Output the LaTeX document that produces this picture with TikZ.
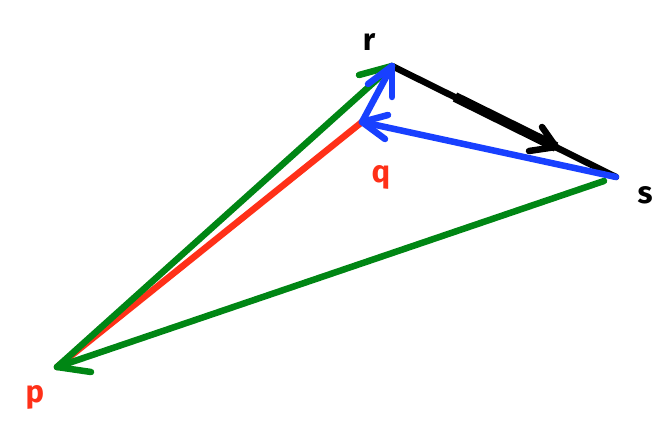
\documentclass[tikz,border=0pt]{standalone}
\usepackage{fontspec}
\setmainfont{Fira Sans}
\usepackage{xcolor}
\usetikzlibrary{arrows, arrows.meta}

\definecolor{vgreen}{RGB}{0,134,20}
\definecolor{vred}{RGB}{255,48,24}
\definecolor{vblue}{RGB}{24,64,255}

\tikzset{
  vec/.style={line width=6.5pt, line cap=round},
  lbl/.style={font=\fontsize{31}{36}\selectfont\bfseries}
}

\begin{document}
\begin{tikzpicture}[x=1pt,y=-1pt]
\useasboundingbox (0,0) rectangle (668,422);

\coordinate (p) at (57,367);
\coordinate (q) at (362,122);
\coordinate (r) at (392,66);
\coordinate (s) at (616,177);

% r to s, arrow in the middle
\draw[vec,black] (r) -- (s);
\draw[black,line width=10pt] (455,97) coordinate (m0) -- (556,147) coordinate (m1);
\draw[vec,black] (m1) -- ++(-14,-20);
\draw[vec,black] (m1) -- ++(-27,4);

% p to q
\draw[vec,vred] (p) -- (q);

% green sides
\draw[vec,vgreen] (p) -- (r);
\draw[vec,vgreen] (r) -- ++(-33,9);
\draw[vec,vgreen] (s) ++(-12,4) -- (p);
\draw[vec,vgreen] (p) -- ++(34,5);

% blue vectors
\draw[vec,vblue] (s) -- (q);
\draw[vec,vblue] (q) -- ++(26,-7);
\draw[vec,vblue] (q) -- ++(23,17);
\draw[vec,vblue] (q) -- (r);
\draw[vec,vblue] (r) -- ++(0,31);
\draw[vec,vblue] (r) -- ++(-24,18);

% labels
\node[lbl,black] (rl) at (369,42) {r};
\node[lbl,vred] (ql) at (381,177) {q};
\node[lbl,black] (sl) at (645,195) {s};
\node[lbl,vred] (pl) at (35,397) {p};

\end{tikzpicture}
\end{document}
